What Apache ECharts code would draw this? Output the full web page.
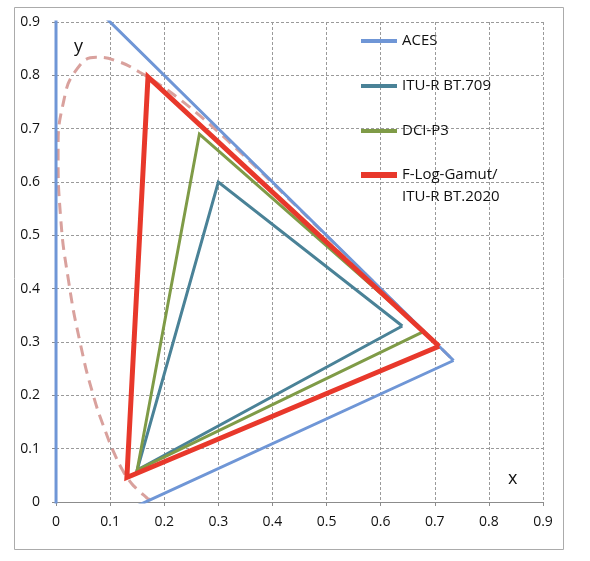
<!DOCTYPE html>
<html>
<head>
    <meta charset="utf-8">
    <title>Colour gamuts</title>
    <script src="https://cdn.jsdelivr.net/npm/echarts@6/dist/echarts.min.js"></script>
    <style>body{margin:0;background:#fff;}</style>
</head>
<body>
    <div id="main" style="width:590px;height:561px;"></div>
    <script type="text/javascript">
    var myChart = echarts.init(document.getElementById('main'));

    // Data (CIE xy chromaticity)
    var axisTicks = [0, 0.1, 0.2, 0.3, 0.4, 0.5, 0.6, 0.7, 0.8, 0.9];
    var spectralLocus = [
      [0.1741,0.0050],[0.1730,0.0048],[0.1714,0.0051],[0.1689,0.0069],[0.1644,0.0109],
      [0.1566,0.0177],[0.1440,0.0297],[0.1355,0.0399],[0.1241,0.0578],[0.1096,0.0868],
      [0.0913,0.1327],[0.0687,0.2007],[0.0454,0.2950],[0.0235,0.4127],[0.0082,0.5384],
      [0.0039,0.6548],[0.0139,0.7502],[0.0389,0.8120],[0.0743,0.8338],[0.1142,0.8262],
      [0.1547,0.8059],[0.1929,0.7816],[0.2296,0.7543],[0.2658,0.7243],[0.3016,0.6923],
      [0.3373,0.6589],[0.3731,0.6245],[0.4087,0.5896],[0.4441,0.5547],[0.4788,0.5202],
      [0.5125,0.4866],[0.5448,0.4544],[0.5752,0.4242],[0.6029,0.3965],[0.6270,0.3725],
      [0.6482,0.3514],[0.6658,0.3340],[0.6801,0.3197],[0.6915,0.3083],[0.7006,0.2993],
      [0.7079,0.2920],[0.7140,0.2859],[0.7190,0.2809],[0.7230,0.2770],[0.7260,0.2740],
      [0.7283,0.2717],[0.7300,0.2700],[0.7311,0.2689],[0.7320,0.2680],[0.7334,0.2666],
      [0.7347,0.2653]
    ];
    var acesGamut = [[0.7347,0.2653],[0.0,1.0],[0.0001,-0.0770],[0.7347,0.2653]];
    var bt709Gamut = [[0.64,0.33],[0.30,0.60],[0.15,0.06],[0.64,0.33]];
    var p3Gamut = [[0.68,0.32],[0.265,0.69],[0.15,0.06],[0.68,0.32]];
    var bt2020Gamut = [[0.708,0.292],[0.170,0.797],[0.131,0.046],[0.708,0.292]];

    var seriesNames = ['ACES', 'ITU-R BT.709', 'DCI-P3', 'F-Log-Gamut/\nITU-R BT.2020'];

    var font = 'Open Sans';

    function axis(name) {
      return {
        type: 'value',
        min: axisTicks[0],
        max: axisTicks[axisTicks.length - 1],
        interval: 0.1,
        axisLine: { show: true, onZero: false, lineStyle: { color: '#8c8c8c', width: 1 } },
        axisTick: { show: true, length: 4, lineStyle: { color: '#8c8c8c' } },
        axisLabel: {
          color: '#111',
          fontFamily: font,
          fontSize: 14,
          margin: name === 'x' ? 13 : 16,
          formatter: function (v) { return String(+v.toFixed(1)); }
        },
        splitLine: { show: true, lineStyle: { color: '#9a9a9a', type: [3, 2], width: 1 } }
      };
    }

    function gamut(name, data, color, width, z) {
      return {
        name: name,
        type: 'line',
        data: data,
        symbol: 'none',
        clip: true,
        z: z,
        lineStyle: { color: color, width: width, join: 'miter' },
        itemStyle: { color: color }
      };
    }

    // shared legend look; the two-line entry gets its own legend so its
    // icon sits on the first text line
    function legend(top, names, thick) {
      return {
        orient: 'vertical',
        left: 361,
        top: top,
        padding: 0,
        icon: 'rect',
        itemWidth: 36,
        itemHeight: thick,
        itemGap: 23,
        textStyle: { fontFamily: font, fontSize: 15, color: '#111', lineHeight: 22 },
        formatter: function (name) {
          return name.indexOf('\n') >= 0 ? ' \n' + name : name;
        },
        data: names
      };
    }

    var option = {
      backgroundColor: '#fff',
      animation: false,
      grid: { left: 56, right: 47, top: 22, bottom: 59 },
      xAxis: axis('x'),
      yAxis: axis('y'),
      legend: [
        legend(30, seriesNames.slice(0, 3), 4),
        legend(142, seriesNames.slice(3), 6)
      ],
      graphic: [
        { type: 'rect', shape: { x: 14.5, y: 7.5, width: 549, height: 542 },
          style: { fill: 'none', stroke: '#ababab', lineWidth: 1 }, silent: true },
        { type: 'text', left: 74, top: 38, style: { text: 'y', font: '18px "Open Sans"', fill: '#111' } },
        { type: 'text', left: 508, top: 470, style: { text: 'x', font: '18px "Open Sans"', fill: '#111' } }
      ],
      series: [
        {
          name: 'spectral locus',
          type: 'line',
          data: spectralLocus,
          symbol: 'none',
          smooth: true,
          clip: true,
          z: 1,
          lineStyle: { color: '#d9a19d', width: 3, type: [11, 7] }
        },
        gamut(seriesNames[0], acesGamut, '#6f96d6', 3, 2),
        gamut(seriesNames[1], bt709Gamut, '#4a8297', 3, 3),
        gamut(seriesNames[2], p3Gamut, '#7f9b47', 3, 4),
        gamut(seriesNames[3], bt2020Gamut, '#e8382b', 5, 5)
      ]
    };

    myChart.setOption(option);
    </script>
</body>
</html>
